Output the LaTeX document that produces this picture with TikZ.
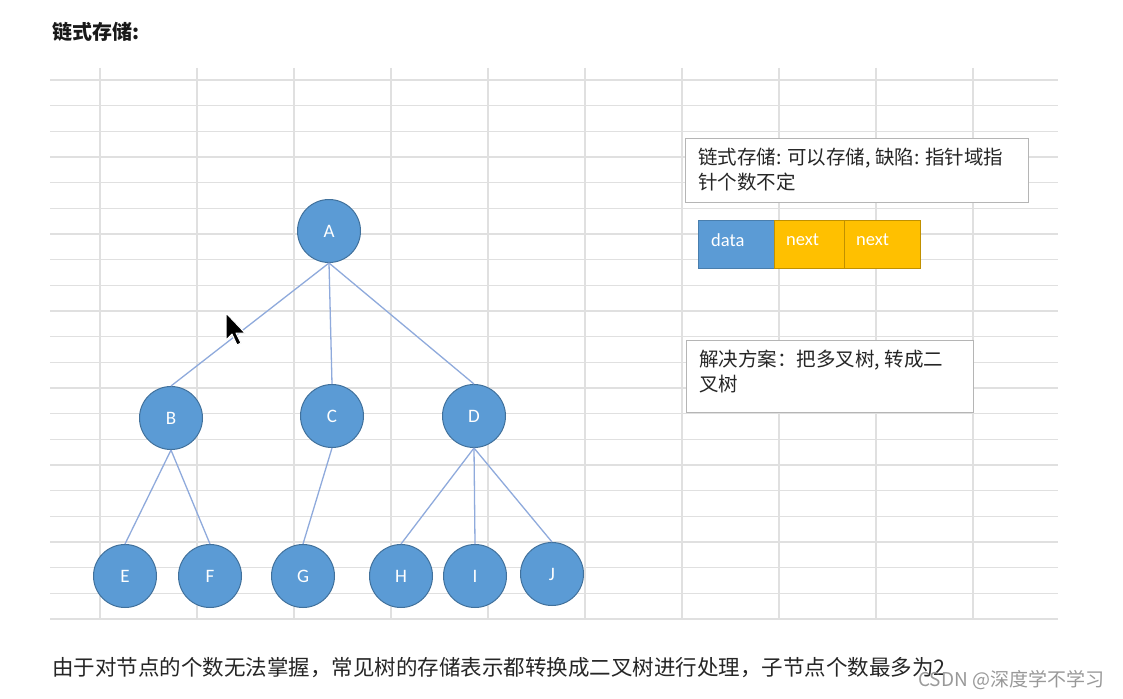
\documentclass[tikz,border=0pt]{standalone}
\usepackage{fontspec}
\setmainfont{Noto Sans CJK SC}
\newfontfamily\latf{Carlito}
\definecolor{gridc}{HTML}{E0E0E0}
\definecolor{nodefill}{HTML}{5B9BD5}
\definecolor{nodeline}{HTML}{41719C}
\definecolor{edgec}{HTML}{8FAADC}
\definecolor{gold}{HTML}{FFC000}
\definecolor{goldline}{HTML}{C09000}
\definecolor{boxline}{HTML}{B5B5B5}
\begin{document}
\begin{tikzpicture}[x=1pt,y=-1pt,
  gridline/.style={draw=gridc, line width=1.2pt},
  tnode/.style={circle, fill=nodefill, draw=nodeline, line width=1pt, minimum size=63pt, inner sep=0pt, text=white, font=\latf\fontsize{19}{21}\selectfont},
  edge/.style={draw=edgec, line width=1.3pt},
  notebox/.style={rectangle, draw=boxline, fill=white, line width=1.2pt, inner sep=0pt, anchor=north west},
  notetext/.style={anchor=base west, inner sep=0pt, font=\fontsize{19.5}{25}\selectfont, text=black!85},
  cell/.style={rectangle, inner sep=0pt, minimum height=48pt, line width=0.8pt, anchor=north west},
  celltext/.style={anchor=west, inner sep=0pt, text=white, font=\latf\fontsize{18.5}{21}\selectfont}
]
\useasboundingbox (0,0) rectangle (1123,698);
\fill[white] (0,0) rectangle (1123,698);
% grid
\foreach \k in {0,...,21} \draw[gridline] (50,{80+25.667*\k}) -- (1058,{80+25.667*\k});
\foreach \k in {0,...,9} \draw[gridline] ({100+97*\k},68) -- ({100+97*\k},619);
% title
\node[anchor=base west, inner sep=0pt, font=\bfseries\fontsize{20}{24}\selectfont, text=black!90] (title) at (52,40) {链式存储:};
% tree nodes
\node[tnode] (A) at (329,231) {A};
\node[tnode] (B) at (171,418) {B};
\node[tnode] (C) at (332,416) {C};
\node[tnode] (D) at (474,416) {D};
\node[tnode] (E) at (125,576) {E};
\node[tnode] (F) at (210,576) {F};
\node[tnode] (G) at (303,576) {G};
\node[tnode] (H) at (401,576) {H};
\node[tnode] (I) at (475,576) {I};
\node[tnode] (J) at (552,574) {J};
\foreach \p/\c in {A/B,A/C,A/D,B/E,B/F,C/G,D/H,D/I,D/J}
  \draw[edge] (\p.south) -- (\c.north);
% note box 1
\node[notebox, minimum width=343pt, minimum height=64pt] (box1) at (685,138) {};
\node[notetext] (box1a) at (698,164) {链式存储: 可以存储, 缺陷: 指针域指};
\node[notetext] (box1b) at (698,189) {针个数不定};
% cells
\node[cell, fill=nodefill, draw=nodeline!70!nodefill, minimum width=76pt] (data) at (698,220) {};
\node[cell, fill=gold, draw=goldline, minimum width=70pt] (next1) at (774,220) {};
\node[cell, fill=gold, draw=goldline, minimum width=76pt] (next2) at (844,220) {};
\node[celltext] (datat) at (711,240) {data};
\node[celltext] (next1t) at (786,240) {next};
\node[celltext] (next2t) at (856,240) {next};
% note box 2
\node[notebox, minimum width=287pt, minimum height=72pt] (box2) at (686,340) {};
\node[notetext] (box2a) at (699,366) {解决方案：把多叉树, 转成二};
\node[notetext] (box2b) at (699,391) {叉树};
% bottom text
\node[anchor=base west, inner sep=0pt, font=\fontsize{21.5}{25}\selectfont, text=black!85] (bottom) at (52,675) {由于对节点的个数无法掌握，常见树的存储表示都转换成二叉树进行处理，子节点个数最多为2};
% watermark
\node[anchor=base west, inner sep=0pt, font=\fontsize{19}{22}\selectfont, text=black!40] (wm) at (918,686) {CSDN @深度学不学习};
% mouse cursor
\filldraw[draw=white, fill=black, line width=1pt, line join=round] (226,313) -- ++(0,27) -- ++(6,-6) -- ++(5,11) -- ++(4,-2) -- ++(-5,-10) -- ++(9,0) -- cycle;
\end{tikzpicture}
\end{document}
